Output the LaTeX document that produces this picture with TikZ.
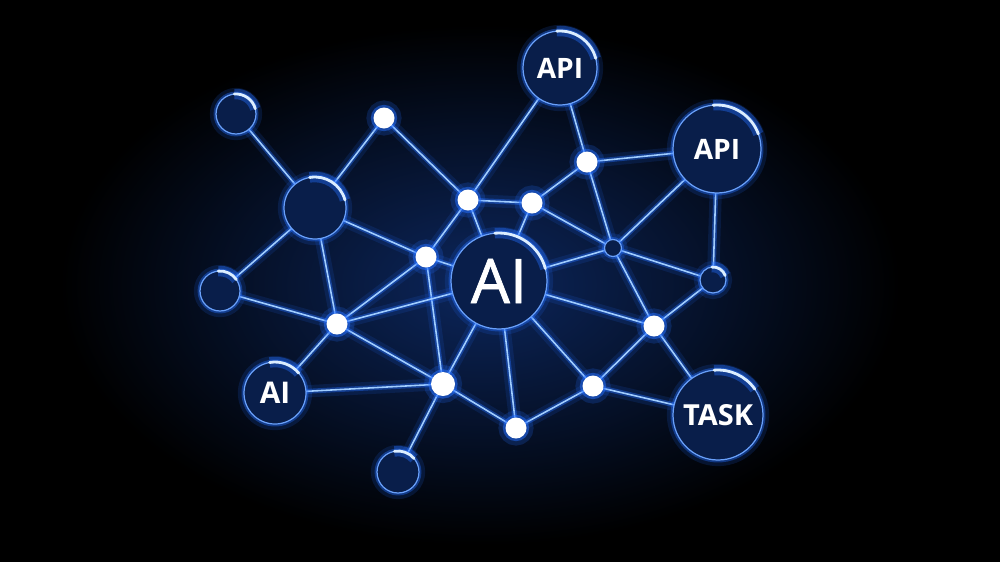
\documentclass[tikz,border=0pt]{standalone}
\usepackage{fontspec}
\setmainfont{Open Sans}
\usetikzlibrary{backgrounds}
\definecolor{haze}{RGB}{12,38,92}
\definecolor{linecol}{RGB}{160,205,255}
\definecolor{glowcol}{RGB}{35,110,255}
\definecolor{ringfill}{RGB}{9,30,74}
\definecolor{ringline}{RGB}{105,160,250}
\definecolor{hilite}{RGB}{220,238,255}
\begin{document}
\begin{tikzpicture}[x=0.02cm,y=-0.02cm,
  ring/.style={circle,draw=ringline,line width=0.7pt,fill=ringfill,inner sep=0pt,outer sep=0pt,text=white,
    preaction={draw=glowcol,line width=7pt,opacity=0.15},
    preaction={draw=glowcol,line width=2.8pt,opacity=0.4}},
  dot/.style={circle,fill=white,inner sep=0pt,outer sep=0pt,minimum size=0.42cm,
    preaction={draw=glowcol,line width=8pt,opacity=0.2},
    preaction={draw=glowcol,line width=3pt,opacity=0.5}},
  link/.style={draw=linecol,line width=0.9pt,
    preaction={draw=glowcol,line width=7pt,opacity=0.13},
    preaction={draw=glowcol,line width=2.8pt,opacity=0.4}},
  hi/.style={draw=hilite,line width=1.6pt,line cap=round,
    preaction={draw=glowcol,line width=6pt,opacity=0.4}},
  lbl/.style={font=\bfseries\fontsize{16}{16}\selectfont}]
\useasboundingbox (0,0) rectangle (1000,562);
% rings
\node[ring,minimum size=0.8cm] (r1) at (236,114) {};
\node[ring,minimum size=1.24cm] (r2) at (315,208) {};
\node[ring,minimum size=0.8cm] (r3) at (220,291) {};
\node[ring,minimum size=0.84cm] (r4) at (398,472) {};
\node[ring,minimum size=0.34cm] (r5) at (613,248) {};
\node[ring,minimum size=0.52cm] (r6) at (713,280) {};
\node[ring,lbl,minimum size=1.48cm] (api1) at (560,68) {API};
\node[ring,lbl,minimum size=1.76cm] (api2) at (717,149) {API};
\node[ring,font=\fontsize{35}{35}\selectfont\addfontfeature{FakeBold=1.2},minimum size=1.92cm] (ai) at (499,281) {AI};
\node[ring,font=\bfseries\fontsize{17}{17}\selectfont,minimum size=1.24cm] (aib) at (275,393) {AI};
\node[ring,font=\bfseries\fontsize{16.5}{16.5}\selectfont,minimum size=1.8cm] (task) at (718,415) {TASK};
% dots
\node[dot] (d1) at (384,118) {};
\node[dot] (d2) at (468,200) {};
\node[dot] (d3) at (532,203) {};
\node[dot] (d4) at (587,162) {};
\node[dot] (d5) at (426,257) {};
\node[dot] (d6) at (337,324) {};
\node[dot,minimum size=0.48cm] (d7) at (443,384) {};
\node[dot] (d8) at (516,428) {};
\node[dot] (d9) at (593,386) {};
\node[dot] (d10) at (654,326) {};
% bright arcs on the rings
\foreach \n/\r/\a/\b in {r1/0.4/95/15,r2/0.62/100/15,r3/0.4/95/35,r4/0.42/100/40,
  r6/0.26/95/20,api1/0.74/95/15,api2/0.88/95/20,ai/0.96/95/15,aib/0.62/100/40,task/0.9/95/35} {
\draw[hi] (\n.\a) arc[start angle=\a,end angle=\b,radius=\r cm];
}
\begin{scope}[on background layer]
\clip (0,0) rectangle (1000,562);
\fill[black] (0,0) rectangle (1000,562);
\shade[inner color=haze,outer color=black] (480,285) ellipse [x radius=420,y radius=260];
\foreach \a/\b in {r1/r2,r2/d1,d1/d2,d2/api1,r2/d5,r2/r3,r2/d6,d5/d2,d5/d6,d5/d7,d5/ai,
  d2/ai,d2/d3,d3/d4,d3/ai,d3/r5,api1/d4,d4/api2,d4/r5,api2/r5,api2/r6,r5/r6,r5/ai,
  r5/d10,r6/d10,ai/d10,d10/d9,d10/task,d9/task,d9/d8,ai/d9,ai/d8,ai/d7,d7/d8,
  d7/aib,d7/r4,d7/d6,d6/aib,d6/r3,d6/ai} {
\draw[link] (\a) -- (\b);
}
\end{scope}
\end{tikzpicture}
\end{document}
